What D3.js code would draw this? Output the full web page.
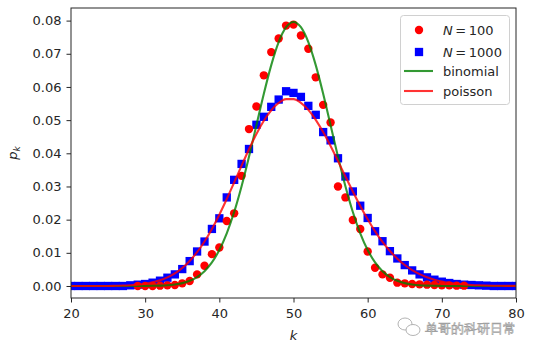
<!DOCTYPE html>
<html>
<head>
<meta charset="utf-8">
<script src="https://cdn.jsdelivr.net/npm/d3@7"></script>
<style>
  body { margin: 0; background: #fff; }
  text { font-family: "DejaVu Sans", sans-serif; }
</style>
</head>
<body>
<div id="container"></div>
<script>
/* DATA */
const kValues = [20,21,22,23,24,25,26,27,28,29,30,31,32,33,34,35,36,37,38,39,40,
  41,42,43,44,45,46,47,48,49,50,51,52,53,54,55,56,57,58,59,60,
  61,62,63,64,65,66,67,68,69,70,71,72,73,74,75,76,77,78,79,80]

// N = 100 markers (k = 29 .. 73)
const kN100 = [29,30,31,32,33,34,35,36,37,38,39,40,41,42,43,44,45,46,47,48,49,50,
  51,52,53,54,55,56,57,58,59,60,61,62,63,64,65,66,67,68,69,70,71,72,73]
const pN100 = [0,0,0,0.0001,0.0002,0.0003,0.0008,0.0015,0.0035,0.0061,0.0096,0.0116,
  0.0196,0.0219,0.0332,0.0473,0.0541,0.0635,0.0705,0.0746,0.0785,0.0788,
  0.0755,0.0715,0.0629,0.0546,0.0493,0.0300,0.0267,0.0199,0.0172,0.0104,
  0.0055,0.0035,0.0025,0.0010,0.0008,0.0006,0.0005,0.0004,0.0003,0.0002,0.0002,0.0001,0.0001]

// N = 1000 markers (k = 20 .. 80)
const pN1000 = [0,0,0,0,0,0,0,0,0.0002,0.0004,0.0006,0.0010,0.0016,0.0025,0.0035,0.0051,
  0.0075,0.0104,0.0134,0.0172,0.0204,0.0267,0.0320,0.0368,0.0413,0.0486,0.0510,
  0.0540,0.0562,0.0587,0.0582,0.0570,0.0543,0.0516,0.0464,0.0439,0.0385,0.0330,
  0.0285,0.0242,0.0205,0.0165,0.0135,0.0105,0.0083,0.0063,0.0047,0.0035,0.0026,
  0.0019,0.0013,0.0009,0.0006,0.0004,0.0003,0.0002,0.0001,0,0,0,0]

// curves (k = 20 .. 80)
const pBinomial = [0,0,0,0,0,0,0,0,0,0,
  0.00002,0.00005,0.00011,0.00023,0.00046,0.00086,0.00156,0.00270,0.00447,0.00711,
  0.01084,0.01587,0.02229,0.03007,0.03895,0.04847,0.05796,0.06659,0.07353,0.07803,
  0.07959,
  0.07803,0.07353,0.06659,0.05796,0.04847,0.03895,0.03007,0.02229,0.01587,0.01084,
  0.00711,0.00447,0.00270,0.00156,0.00086,0.00046,0.00023,0.00011,0.00005,0.00002,
  0,0,0,0,0,0,0,0,0,0]
const pPoisson = [0,0,0,0,0,0,0.00007,0.00013,0.00024,0.00041,0.00068,0.00109,
  0.00171,0.00259,0.00380,0.00543,0.00755,0.01020,0.01342,0.01720,0.02150,
  0.02622,0.03121,0.03629,0.04124,0.04583,0.04981,0.05299,0.05520,0.05633,
  0.05633,0.05523,0.05310,0.05010,0.04639,0.04217,0.03765,0.03303,0.02847,
  0.02413,0.02011,0.01648,0.01329,0.01055,0.00824,0.00634,0.00480,0.00358,
  0.00264,0.00191,0.00136,0.00096,0.00067,0.00046,0.00031,0.00021,0.00014,
  0.00009,0.00006,0.00004,0.00002]

const xTicks = [20,30,40,50,60,70,80]
const yTicks = [0,0.01,0.02,0.03,0.04,0.05,0.06,0.07,0.08]
const legendLabels = ["N = 100", "N = 1000", "binomial", "poisson"]

/* CONSTANTS AND GLOBALS */
const width = 533,
  height = 352,
  margin = { top: 8, bottom: 54, left: 71, right: 17 }

const svg = d3.select("#container")
  .append("svg")
  .attr("width", width)
  .attr("height", height)

//scales
const xScale = d3.scaleLinear()
  .domain([20, 80])
  .range([margin.left, width - margin.right])

const yScale = d3.scaleLinear()
  .domain([-0.00362, 0.0838])
  .range([height - margin.bottom, margin.top])

svg.append("clipPath")
  .attr("id", "plot-clip")
  .append("rect")
  .attr("x", margin.left)
  .attr("y", margin.top)
  .attr("width", width - margin.left - margin.right)
  .attr("height", height - margin.top - margin.bottom)

const plot = svg.append("g").attr("clip-path", "url(#plot-clip)")

//N = 1000 squares
const sq = 8.3
plot.selectAll(".sq")
  .data(kValues.map((k, i) => ({ k, p: pN1000[i] })))
  .join("rect")
  .attr("class", "sq")
  .attr("x", d => xScale(d.k) - sq / 2)
  .attr("y", d => yScale(d.p) - sq / 2)
  .attr("width", sq)
  .attr("height", sq)
  .attr("fill", "#0000ff")

//N = 100 dots
plot.selectAll(".dot")
  .data(kN100.map((k, i) => ({ k, p: pN100[i] })))
  .join("circle")
  .attr("class", "dot")
  .attr("cx", d => xScale(d.k))
  .attr("cy", d => yScale(d.p))
  .attr("r", 4.2)
  .attr("fill", "#ff0000")

//lines
const lineGen = d3.line()
  .x(d => xScale(d.k))
  .y(d => yScale(d.p))
  .curve(d3.curveMonotoneX)

const curves = [
  { name: "binomial", color: "#008000", values: pBinomial },
  { name: "poisson", color: "#ff0000", values: pPoisson }
]

plot.selectAll(".curve")
  .data(curves)
  .join("path")
  .attr("class", "curve")
  .attr("d", d => lineGen(kValues.map((k, i) => ({ k, p: d.values[i] }))))
  .attr("fill", "none")
  .attr("stroke", d => d.color)
  .attr("stroke-opacity", 0.8)
  .attr("stroke-width", 2.1)
  .attr("stroke-linejoin", "round")

//x-axis
const xAxis = d3.axisBottom(xScale)
  .tickValues(xTicks)
  .tickSize(4.5)
  .tickPadding(6)
  .tickFormat(d3.format("d"))

svg.append("g")
  .attr("class", "x-axis")
  .attr("transform", `translate(0, ${height - margin.bottom})`)
  .call(xAxis)

//y-axis
const yAxis = d3.axisLeft(yScale)
  .tickValues(yTicks)
  .tickSize(4.5)
  .tickPadding(5)
  .tickFormat(d3.format(".2f"))

svg.append("g")
  .attr("class", "y-axis")
  .attr("transform", `translate(${margin.left}, 0)`)
  .call(yAxis)

svg.selectAll(".x-axis .domain, .y-axis .domain").remove()
svg.selectAll(".tick line").attr("stroke", "#262626").attr("stroke-width", 1)
svg.selectAll(".tick text")
  .attr("fill", "#262626")
  .attr("font-size", "13px")
  .attr("font-family", "DejaVu Sans, sans-serif")

//frame
svg.append("rect")
  .attr("x", margin.left)
  .attr("y", margin.top)
  .attr("width", width - margin.left - margin.right)
  .attr("height", height - margin.top - margin.bottom)
  .attr("fill", "none")
  .attr("stroke", "#262626")
  .attr("stroke-width", 1)

//axis labels
svg.append("text")
  .attr("class", "xAxisLabel")
  .attr("x", (margin.left + width - margin.right) / 2)
  .attr("y", 340)
  .attr("text-anchor", "middle")
  .attr("font-size", "13px")
  .attr("font-style", "italic")
  .attr("fill", "#262626")
  .text("k")

const yLabel = svg.append("text")
  .attr("class", "yAxisLabel")
  .attr("transform", "translate(17, 153) rotate(-90)")
  .attr("text-anchor", "middle")
  .attr("font-size", "13px")
  .attr("font-style", "italic")
  .attr("fill", "#262626")
yLabel.append("tspan").text("p")
yLabel.append("tspan").attr("font-size", "9px").attr("dy", 3).text("k")

//legend
const legend = svg.append("g")
  .attr("class", "legend")
  .attr("transform", "translate(400, 15)")

legend.append("rect")
  .attr("x", 0.5)
  .attr("y", 0.5)
  .attr("width", 109)
  .attr("height", 89)
  .attr("rx", 3)
  .attr("fill", "#fff")
  .attr("fill-opacity", 0.8)
  .attr("stroke", "#d0d0d0")

const rowY = [15, 37, 56, 76]

legend.append("circle").attr("cx", 19).attr("cy", rowY[0]).attr("r", 4.2).attr("fill", "#ff0000")
legend.append("rect").attr("x", 19 - sq / 2).attr("y", rowY[1] - sq / 2)
  .attr("width", sq).attr("height", sq).attr("fill", "#0000ff")
curves.forEach((c, i) => {
  legend.append("line")
    .attr("x1", 4).attr("x2", 33)
    .attr("y1", rowY[i + 2]).attr("y2", rowY[i + 2])
    .attr("stroke", c.color)
    .attr("stroke-opacity", 0.8)
    .attr("stroke-width", 2.1)
})

legendLabels.forEach((label, i) => {
  const t = legend.append("text")
    .attr("x", 43)
    .attr("y", rowY[i] + 4.5)
    .attr("font-size", "13px")
    .attr("fill", "#262626")
  if (label.startsWith("N")) {
    t.append("tspan").attr("font-style", "italic").text("N")
    t.append("tspan").text("\u2009=\u2009" + label.split("= ")[1])
  } else {
    t.text(label)
  }
})

//watermark
const mark = svg.append("g").attr("class", "watermark")
mark.append("ellipse").attr("cx", 405).attr("cy", 324).attr("rx", 7).attr("ry", 6)
  .attr("fill", "#fff").attr("stroke", "#aaa").attr("stroke-width", 0.9)
mark.append("ellipse").attr("cx", 413).attr("cy", 330).attr("rx", 7).attr("ry", 5.5)
  .attr("fill", "#fff").attr("stroke", "#aaa").attr("stroke-width", 0.9)
mark.append("text")
  .attr("x", 425)
  .attr("y", 333)
  .attr("font-family", "Noto Sans CJK SC")
  .attr("font-size", "13px")
  .attr("fill", "#fff")
  .attr("stroke", "#a0a0a0")
  .attr("stroke-width", 0.6)
  .text("单哥的科研日常")
</script>
</body>
</html>
